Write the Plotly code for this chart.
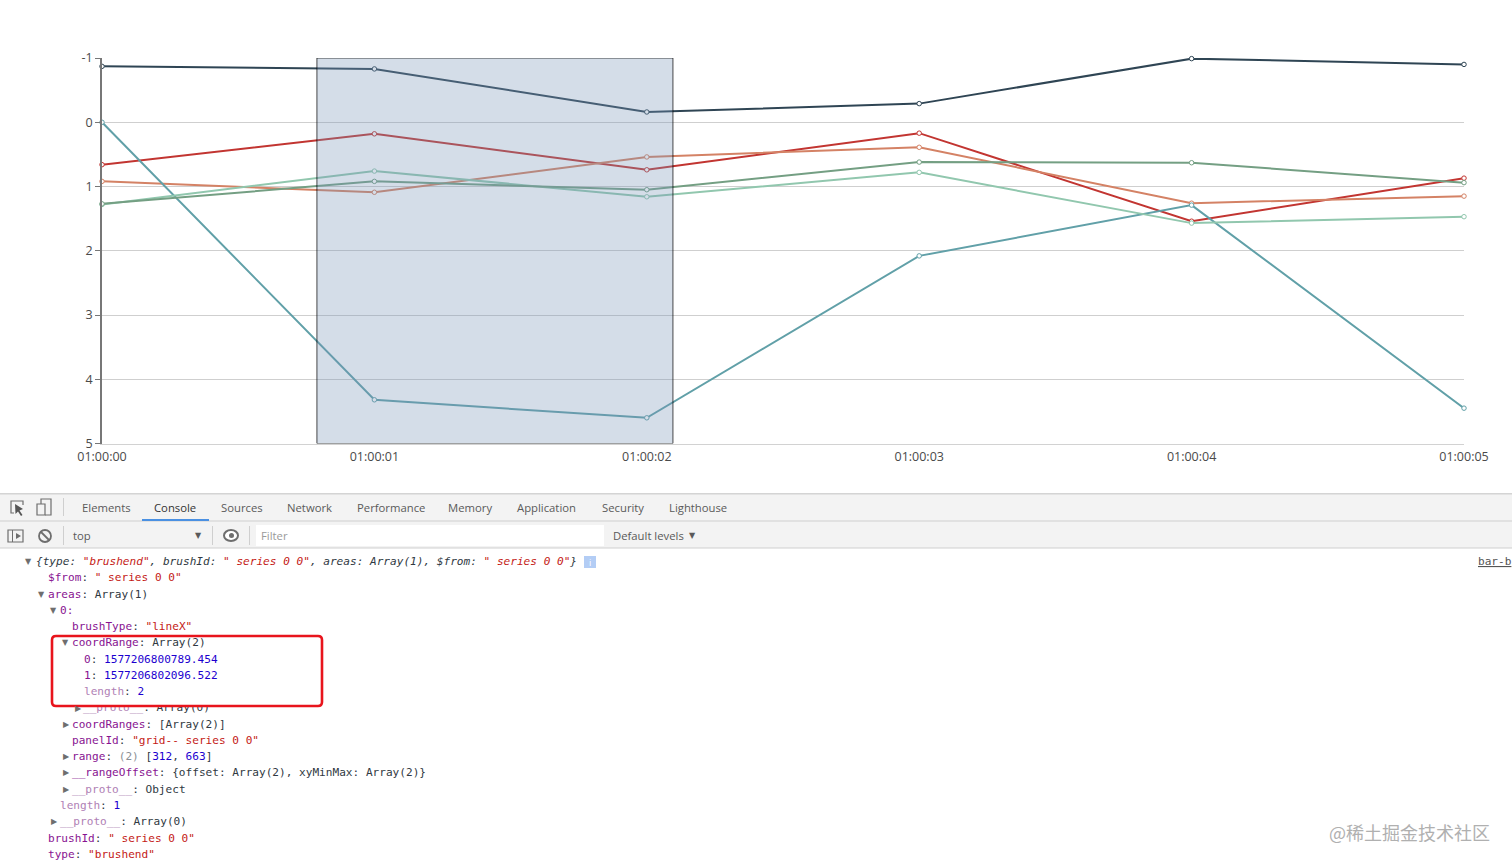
#=====================================================================
# echarts style brush line chart above a devtools console screenshot
#=====================================================================
import plotly.graph_objects as go

#-------------------------------------------------
# data
#-------------------------------------------------
times = ["2019-12-25 01:00:00", "2019-12-25 01:00:01", "2019-12-25 01:00:02",
         "2019-12-25 01:00:03", "2019-12-25 01:00:04", "2019-12-25 01:00:05"]
time_labels = ["01:00:00", "01:00:01", "01:00:02", "01:00:03", "01:00:04", "01:00:05"]
y_ticks = [-1, 0, 1, 2, 3, 4, 5]
y_labels = ["-1", "0", "1", "2", "3", "4", "5"]

navy = [-0.87, -0.83, -0.16, -0.29, -0.99, -0.90]
red = [0.66, 0.18, 0.74, 0.17, 1.54, 0.87]
orange = [0.92, 1.09, 0.54, 0.39, 1.26, 1.15]
teal = [0.0, 4.32, 4.60, 2.08, 1.29, 4.45]
mint = [1.28, 0.76, 1.16, 0.78, 1.57, 1.47]
green = [1.27, 0.92, 1.05, 0.62, 0.63, 0.94]

series = [(navy, "#2f4554"), (red, "#c23531"), (orange, "#d48265"),
          (teal, "#61a0a8"), (mint, "#91c7ae"), (green, "#749f83")]

brush_range = ["2019-12-25 01:00:00.789", "2019-12-25 01:00:02.096"]

KEY = "#881391"
FADED = "#b07fb5"
STR = "#c41a16"
NUM = "#1c00cf"
DARK = "#303942"
GREY = "#8a8f94"

def c(text, color):
    return '<span style="color:%s">%s</span>' % (color, text)

# x, y, text of the console rows
console_rows = [
    (36, 561.5, "<i>" + c("{type: ", DARK) + c('"brushend"', STR) + c(", brushId: ", DARK) + c('" series 0 0"', STR)
     + c(", areas: Array(1), $from: ", DARK) + c('" series 0 0"', STR) + c("}", DARK) + "</i>"),
    (48, 577.5, c("$from", KEY) + c(': ', DARK) + c('" series 0 0"', STR)),
    (48, 594, c("areas", KEY) + c(": Array(1)", DARK)),
    (60, 610, c("0:", KEY)),
    (72, 626.5, c("brushType", KEY) + c(": ", DARK) + c('"lineX"', STR)),
    (72, 642.5, c("coordRange", KEY) + c(": Array(2)", DARK)),
    (84, 659, c("0", KEY) + c(": ", DARK) + c("1577206800789.454", NUM)),
    (84, 675, c("1", KEY) + c(": ", DARK) + c("1577206802096.522", NUM)),
    (84, 691.5, c("length", FADED) + c(": ", DARK) + c("2", NUM)),
    (72, 724, c("coordRanges", KEY) + c(": [Array(2)]", DARK)),
    (72, 740, c("panelId", KEY) + c(": ", DARK) + c('"grid-- series 0 0"', STR)),
    (72, 756.5, c("range", KEY) + c(": ", DARK) + c("(2) ", GREY) + c("[", DARK) + c("312", NUM) + c(", ", DARK)
     + c("663", NUM) + c("]", DARK)),
    (72, 772.5, c("__rangeOffset", KEY) + c(": {offset: Array(2), xyMinMax: Array(2)}", DARK)),
    (72, 789, c("__proto__", FADED) + c(": Object", DARK)),
    (60, 805, c("length", FADED) + c(": ", DARK) + c("1", NUM)),
    (60, 821.5, c("__proto__", FADED) + c(": Array(0)", DARK)),
    (48, 838, c("brushId", KEY) + c(": ", DARK) + c('" series 0 0"', STR)),
    (48, 854, c("type", KEY) + c(": ", DARK) + c('"brushend"', STR)),
]

open_rows = [(25, 561.5), (38, 594), (50, 610), (62, 642.5)]
closed_rows = [(63, 724), (63, 756.5), (63, 772.5), (63, 789), (51, 821.5), (75, 708)]

tab_names = ["Elements", "Console", "Sources", "Network", "Performance", "Memory", "Application", "Security", "Lighthouse"]
tab_x = [82, 154, 221, 287, 357, 448, 517, 602, 669]

#-------------------------------------------------
# pixel helpers: paper is the whole page
#-------------------------------------------------
W, H = 1512, 866
L, R, T, B = 102, 1464, 58, 443.5
MONO = "DejaVu Sans Mono"
ICON = "#6e6e6e"

def X(px):
    return px / W

def Y(py):
    return 1 - py / H

def box(x0, y0, x1, y1, fill=None, line=None, width=1, layer="above"):
    return dict(type="rect", xref="paper", yref="paper", x0=X(x0), x1=X(x1), y0=Y(y0), y1=Y(y1),
                fillcolor=fill or "rgba(0,0,0,0)", line=dict(color=line or "rgba(0,0,0,0)", width=width if line else 0),
                layer=layer)

def path(points, fill=None, line=None, width=1, close=False):
    d = "M " + " L ".join("%f,%f" % (X(a), Y(b)) for a, b in points) + (" Z" if close else "")
    return dict(type="path", xref="paper", yref="paper", path=d, layer="below",
                fillcolor=fill or "rgba(0,0,0,0)", line=dict(color=line or "rgba(0,0,0,0)", width=width if line else 0))

def label(px, py, text, size=11.3, color="#5a5a5a", family="Open Sans", anchor="left"):
    return dict(xref="paper", yref="paper", x=X(px), y=Y(py), text=text, showarrow=False,
                xanchor=anchor, yanchor="middle", align="left",
                xshift=-2 if anchor == "left" else 0,
                font=dict(family=family, size=size, color=color))

#-------------------------------------------------
# chart
#-------------------------------------------------
fig = go.Figure()

for values, color in series:
    fig.add_trace(go.Scatter(
        x=times,
        y=values,
        mode="lines+markers",
        line=dict(color=color, width=2),
        marker=dict(size=4.5, color="white", line=dict(color=color, width=1)),
        cliponaxis=False,
        showlegend=False,
    ))

# row half hidden by the red box: a trace so that the shapes can sit over it
fig.add_trace(go.Scatter(
    x=[83], y=[708], mode="text", xaxis="x2", yaxis="y2",
    text=[c("__proto__", FADED) + c(": Array(0)", DARK)],
    textposition="middle right",
    textfont=dict(family=MONO, size=11.1),
    showlegend=False, hoverinfo="skip",
))

shapes = [
    # brush
    dict(type="rect", xref="x", yref="y", x0=brush_range[0], x1=brush_range[1], y0=5, y1=-1,
         fillcolor="rgba(120,150,185,0.32)", line=dict(color="rgba(0,0,0,0.7)", width=1), layer="above"),
    # devtools bars
    box(0, 493, W, 548, fill="#f3f3f3", layer="below"),
    box(0, 493, W, 494.5, fill="#d4d4d4", layer="below"),
    box(0, 520.5, W, 521.5, fill="#d0d0d0", layer="below"),
    box(0, 547.5, W, 548.5, fill="#d0d0d0", layer="below"),
    box(142, 519, 209, 521, fill="#4a90e2", layer="below"),
    box(256, 525, 604, 546, fill="white", layer="below"),
    box(63, 498, 64, 516, fill="#cfcfcf", layer="below"),
    box(63, 526, 64, 545, fill="#cfcfcf", layer="below"),
    box(212, 526, 213, 545, fill="#cfcfcf", layer="below"),
    box(249, 526, 250, 545, fill="#cfcfcf", layer="below"),
    # inspect icon
    path([(14, 513), (11, 513), (11, 501), (23, 501), (23, 505)], line=ICON, width=1.2),
    path([(15, 504), (23, 509), (19.5, 510.5), (22.5, 515), (21, 516), (18, 511.5), (15.5, 514)], fill="#555555", close=True),
    # device icon
    box(37, 504, 45, 515, line=ICON, width=1.2, layer="below"),
    path([(41, 504), (41, 499), (51, 499), (51, 515), (45, 515)], line=ICON, width=1.2),
    # sidebar icon
    box(8, 530, 23, 542, line=ICON, width=1.2, layer="below"),
    box(12, 530, 13, 542, fill=ICON, layer="below"),
    path([(16, 533), (21, 536), (16, 539)], fill=ICON, close=True),
    # clear and eye icons
    dict(type="circle", xref="paper", yref="paper", x0=X(39), x1=X(51), y0=Y(530), y1=Y(542),
         line=dict(color=ICON, width=1.8)),
    dict(type="line", xref="paper", yref="paper", x0=X(41), x1=X(49), y0=Y(532), y1=Y(540),
         line=dict(color=ICON, width=1.8)),
    dict(type="circle", xref="paper", yref="paper", x0=X(224), x1=X(238), y0=Y(530), y1=Y(541),
         fillcolor="white", line=dict(color=ICON, width=2)),
    dict(type="circle", xref="paper", yref="paper", x0=X(229), x1=X(234), y0=Y(533), y1=Y(538),
         fillcolor=ICON, line=dict(width=0)),
    # info badge
    box(584, 556, 596, 568, fill="#b3cdf5", layer="below"),
    # red box, white cover first
    box(54, 697, 320, 705, fill="white"),
    dict(type="path", xref="paper", yref="paper", layer="above",
         path="M %f,%f L %f,%f Q %f,%f %f,%f L %f,%f Q %f,%f %f,%f L %f,%f Q %f,%f %f,%f L %f,%f Q %f,%f %f,%f Z" % (
             X(56), Y(636), X(318), Y(636), X(322), Y(636), X(322), Y(640),
             X(322), Y(702), X(322), Y(706), X(318), Y(706),
             X(56), Y(706), X(52), Y(706), X(52), Y(702),
             X(52), Y(640), X(52), Y(636), X(56), Y(636)),
         line=dict(color="#e8141c", width=2.6)),
]

annotations = []
for name, px in zip(tab_names, tab_x):
    annotations.append(label(px, 508, name, color="#333333" if name == "Console" else "#5a5a5a"))
annotations.append(label(73, 535.5, "top"))
annotations.append(label(261, 535.5, "Filter", color="#9a9a9a"))
annotations.append(label(613, 535.5, "Default levels"))
annotations.append(label(195, 535, "▼", size=8, family="DejaVu Sans"))
annotations.append(label(689, 535, "▼", size=8, family="DejaVu Sans"))
annotations.append(label(590, 562, "i", size=9, color="white", anchor="center"))

for px, py, text in console_rows:
    annotations.append(label(px, py, text, size=11.1, color=DARK, family=MONO))
for px, py in open_rows:
    annotations.append(label(px, py, "▼", size=8, color=ICON, family="DejaVu Sans"))
for px, py in closed_rows:
    annotations.append(label(px, py, "▶", size=8, color=ICON, family="DejaVu Sans"))

annotations.append(label(1478, 561, "<u>bar-b</u>", size=11.1, color="#555555", family=MONO))
annotations.append(label(1329, 832, "@稀土掘金技术社区", size=18, color="#b0b0b0", family="Noto Sans CJK SC"))

fig.update_layout(
    width=W,
    height=H,
    margin=dict(l=0, r=0, t=0, b=0, autoexpand=False),
    paper_bgcolor="white",
    plot_bgcolor="rgba(0,0,0,0)",
    showlegend=False,
    shapes=shapes,
    annotations=annotations,
    font=dict(family="Open Sans", size=12.5, color="#4a4a4a"),
    xaxis=dict(
        domain=[L / W, R / W],
        type="date",
        range=[times[0], times[-1]],
        tickvals=times,
        ticktext=time_labels,
        ticks="",
        ticklabelstandoff=1,
        showgrid=False,
        zeroline=False,
        showline=True,
        linecolor="#d2d2d2",
        linewidth=1.2,
    ),
    yaxis=dict(
        domain=[1 - B / H, 1 - T / H],
        range=[5, -1],
        tickvals=y_ticks,
        ticktext=y_labels,
        ticks="outside",
        ticklen=5,
        tickcolor="#777777",
        showgrid=True,
        gridcolor="#cfcfcf",
        gridwidth=1,
        zeroline=False,
        showline=True,
        linecolor="#777777",
        linewidth=1.8,
    ),
    # whole page in pixels, only for the text trace
    xaxis2=dict(domain=[0, 1], range=[0, W], visible=False, fixedrange=True, anchor="y2"),
    yaxis2=dict(domain=[0, 1], range=[H, 0], visible=False, fixedrange=True, anchor="x2"),
)

fig.write_html("out.html", config={"displayModeBar": False}, post_script="document.body.style.margin='0';")
